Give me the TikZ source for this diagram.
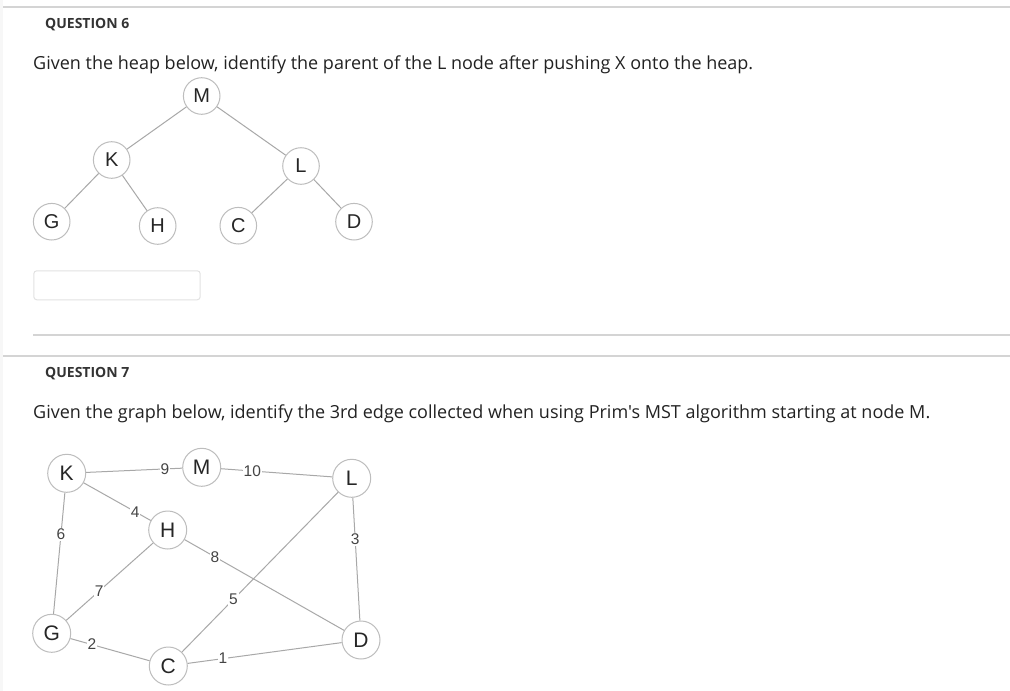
\documentclass[tikz,border=0pt]{standalone}
\usepackage{fontspec}
\setmainfont{Open Sans}[Ligatures=TeXOff]
\newfontfamily\arialf{Liberation Sans}
\usepackage{graphicx}
\definecolor{stripgray}{HTML}{F7F7F7}
\definecolor{rulegray}{HTML}{D4D4D4}
\definecolor{boxgray}{HTML}{E2E2E2}
\definecolor{headcol}{HTML}{333333}
\definecolor{bodycol}{HTML}{222222}
\definecolor{circgray}{HTML}{BDBDBD}
\definecolor{edgegray}{HTML}{A8A8A8}
\definecolor{labcol}{HTML}{444444}
\begin{document}
\begin{tikzpicture}[x=1pt,y=-1pt,
  heading/.style={anchor=base west, inner sep=0pt, text=headcol, font=\fontsize{14}{16}\selectfont\bfseries},
  body/.style={anchor=base west, inner sep=0pt, text=bodycol},
  hnode/.style={circle, draw=circgray, line width=1pt, fill=white, minimum size=36.6pt, inner sep=0pt, font=\arialf\fontsize{20}{20}\selectfont, text=black!85},
  gnode/.style={circle, draw=circgray, line width=1pt, fill=white, minimum size=38pt, inner sep=0pt, font=\arialf\fontsize{21}{21}\selectfont, text=black!85},
  hedge/.style={draw=edgegray, line width=1pt},
  gedge/.style={draw=edgegray, line width=1pt},
  elab/.style={fill=white, inner sep=0.8pt, font=\arialf\fontsize{15.5}{15.5}\selectfont, text=labcol}
]
\useasboundingbox (0,0) rectangle (1010,691);
\fill[white] (0,0) rectangle (1010,691);
\fill[stripgray] (0,0) rectangle (3,691);
\draw[rulegray, line width=1.3pt] (3,7) -- (1010,7);

% Question 6
\node[heading] (q6) at (45,28.7) {QUESTION 6};
\node[body] (t6) at (33,69) {\resizebox{720pt}{!}{\fontsize{18}{20}\selectfont Given the heap below, identify the parent of the L node after pushing X onto the heap.}};

\node[hnode] (hM) at (201.7,96) {M};
\node[hnode] (hK) at (111.7,160) {K};
\node[hnode] (hL) at (301,166) {L};
\node[hnode] (hG) at (51.7,221.7) {G};
\node[hnode] (hH) at (157.7,226) {H};
\node[hnode] (hC) at (238.3,225.7) {C};
\node[hnode] (hD) at (354,221.7) {D};
\draw[hedge] (hM) -- (hK);
\draw[hedge] (hM) -- (hL);
\draw[hedge] (hK) -- (hG);
\draw[hedge] (hK) -- (hH);
\draw[hedge] (hL) -- (hC);
\draw[hedge] (hL) -- (hD);

\node[draw=boxgray, line width=1pt, rounded corners=3pt, minimum width=166.4pt, minimum height=29pt, inner sep=0pt, anchor=north west] (ans) at (33.3,270.3) {};

\draw[rulegray, line width=1.3pt] (33,335) -- (1010,335);
\draw[rulegray, line width=1.3pt] (3,356) -- (1010,356);

% Question 7
\node[heading] (q7) at (45,377.5) {QUESTION 7};
\node[body] (t7) at (33,418) {\resizebox{897pt}{!}{\fontsize{18}{20}\selectfont Given the graph below, identify the 3rd edge collected when using Prim's MST algorithm starting at node M.}};

\node[gnode] (K) at (66.7,473.3) {K};
\node[gnode] (M) at (201.7,467.3) {M};
\node[gnode] (L) at (351.7,478.3) {L};
\node[gnode] (H) at (167.7,530) {H};
\node[gnode] (G) at (51.7,633.3) {G};
\node[gnode] (C) at (168.3,666) {C};
\node[gnode] (D) at (361,640) {D};

\draw[gedge] (K) -- node[elab,pos=0.82] (e9) {9} (M);
\draw[gedge] (M) -- node[elab,pos=0.28] (e10) {10} (L);
\draw[gedge] (K) -- node[elab,pos=0.77] (e4) {4} (H);
\draw[gedge] (K) -- node[elab,pos=0.345] (e6) {6} (G);
\draw[gedge] (H) -- node[elab,pos=0.19] (e8) {8} (D);
\draw[gedge] (L) -- node[elab,pos=0.34] (e3) {3} (D);
\draw[gedge] (G) -- node[elab,pos=0.38] (e7) {7} (H);
\draw[gedge] (C) -- node[elab,pos=0.33] (e5) {5} (L);
\draw[gedge] (G) -- node[elab,pos=0.27] (e2) {2} (C);
\draw[gedge] (C) -- node[elab,pos=0.23] (e1) {1} (D);
\end{tikzpicture}
\end{document}
